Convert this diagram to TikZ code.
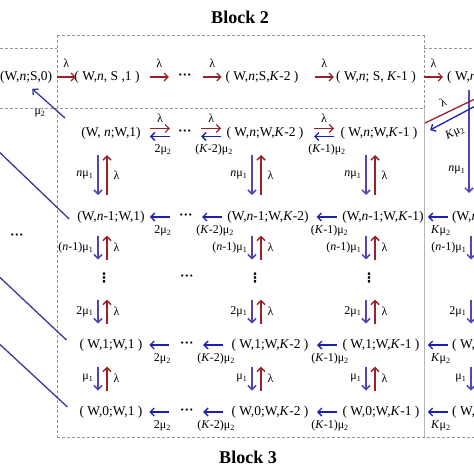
\documentclass[tikz,border=0pt]{standalone}
\usepackage{fontspec}
\setmainfont{Liberation Serif}
\newfontfamily\dvfont{DejaVu Sans}
\usetikzlibrary{calc,arrows.meta}
\definecolor{rd}{RGB}{150,35,40}
\definecolor{bl}{RGB}{30,30,175}
\definecolor{vb}{RGB}{80,70,180}
\definecolor{dl}{RGB}{60,55,160}
\definecolor{gr}{RGB}{150,150,150}
\newcommand\mus[1]{μ\textsubscript{#1}}
\newcommand\HR[3][0pt]{%
  \coordinate (hm) at ($(#2.east)!0.5!(#3.west)$);
  \draw[rarr] ([xshift={#1-9.5pt}]hm) -- ([xshift={#1+9.5pt}]hm);
  \node[lb] at ([xshift=#1,yshift=14pt]hm) {λ};}
\newcommand\HD[4][0pt]{%
  \coordinate (hm) at ($(#2.east)!0.5!(#3.west)$);
  \draw[rarr] ([xshift={#1-10pt},yshift=4.5pt]hm) -- ([xshift={#1+10pt},yshift=4.5pt]hm);
  \draw[barr] ([xshift={#1+10pt},yshift=-3.5pt]hm) -- ([xshift={#1-10pt},yshift=-3.5pt]hm);
  \node[lb] at ([xshift=#1,yshift=15pt]hm) {λ};
  \node[lb] at ([xshift={#1+3pt},yshift=-17pt]hm) {#4};}
\newcommand\HB[4][0pt]{%
  \coordinate (hm) at ($(#2.east)!0.5!(#3.west)$);
  \draw[barr] ([xshift={#1+10pt}]hm) -- ([xshift={#1-10pt}]hm);
  \node[lb] at ([xshift={#1+3pt},yshift=-14pt]hm) {#4};}
\newcommand\VPair[5]{%
  \coordinate (vm) at ($(#2)!0.5!(#3)$);
  \coordinate (vc) at (#1 |- vm);
  \draw[vbarr] ([xshift=-13pt,yshift=#4]vc) -- ([xshift=-13pt,yshift=-#4]vc);
  \draw[vrarr] ([xshift=-4pt,yshift=-#4]vc) -- ([xshift=-4pt,yshift=#4]vc);
  \node[lb,anchor=east] at ([xshift=-17pt]vc) {#5};
  \node[lb,anchor=west] at ([xshift=2pt]vc) {λ};}
\tikzset{
  st/.style={inner sep=1pt, font=\fontsize{13.5}{16}\selectfont},
  dt/.style={inner sep=0pt, font=\bfseries\fontsize{13.5}{16}\selectfont},
  vt/.style={inner sep=0pt, font=\dvfont\bfseries\fontsize{13}{15}\selectfont},
  lb/.style={inner sep=0.5pt, font=\fontsize{12}{14}\selectfont},
  rarr/.style={draw=rd, line width=1.2pt, -{Straight Barb[length=4pt,width=8pt]}},
  barr/.style={draw=bl, line width=1.3pt, -{Straight Barb[length=4pt,width=8pt]}},
  vbarr/.style={draw=vb, line width=1.5pt, -{Straight Barb[length=4pt,width=8pt]}},
  vrarr/.style={draw=rd, line width=1.5pt, -{Straight Barb[length=4pt,width=8pt]}},
  dline/.style={draw=dl, line width=1.3pt},
  dsh/.style={draw=gr, line width=0.7pt, dash pattern=on 3pt off 2pt},
  sol/.style={draw=gr!70, line width=0.7pt},
  ttl/.style={inner sep=1pt, font=\bfseries\fontsize{18}{20}\selectfont}
}
\begin{document}
\begin{tikzpicture}[x=1pt,y=-1pt]
\useasboundingbox (0,0) rectangle (474,474);
\clip (0,0) rectangle (474,474);
% titles
\node[ttl] (t2) at (240,17) {Block 2};
\node[ttl] (t3) at (248,457) {Block 3};
% block borders
\draw[dsh] (57,35) -- (424,35);
\draw[dsh] (0,48) -- (57,48);
\draw[dsh] (424,48) -- (474,48);
\draw[dsh] (0,108) -- (424,108);
\draw[dsh] (57,35) -- (57,437);
\draw[dsh] (424,35) -- (424,108);
\draw[sol] (424,108) -- (424,437);
\draw[dsh] (57,437) -- (474,437);
% row S
\node[st,anchor=west] (s0) at (-1,77) {(W,\textit{n};S,0)};
\node[st] (s1) at (107,77) {( W,\textit{n}, S ,1 )};
\node[dt] (sd) at (185,77) {···};
\node[st] (s2) at (262,77) {( W,\textit{n};S,\textit{K}-2 )};
\node[st] (s3) at (376,77) {( W,\textit{n}; S, \textit{K}-1 )};
\node[st,anchor=west] (s4) at (446,77) {( W,\textit{n};S,\textit{K} )};
% row W
\node[st] (w1) at (111,133) {(W, \textit{n};W,1)};
\node[dt] (wd) at (185,133) {···};
\node[st] (w2) at (265,133) {( W,\textit{n};W,\textit{K}-2 )};
\node[st] (w3) at (379,133) {( W,\textit{n};W,\textit{K}-1 )};
% row n-1
\node[st] (a1) at (111,217) {(W,\textit{n}-1;W,1)};
\node[dt] (ad) at (186,217) {···};
\node[st] (a2) at (268,217) {(W,\textit{n}-1;W,\textit{K}-2)};
\node[st] (a3) at (383,217) {(W,\textit{n}-1;W,\textit{K}-1)};
\node[st,anchor=west] (a4) at (451,217) {(W,\textit{n}-1;W,\textit{K})};
% dots row
\node[vt] (v1) at (104,278) {⋮};
\node[dt] (vd) at (187,278) {···};
\node[vt] (v2) at (255,278) {⋮};
\node[vt] (v3) at (369,278) {⋮};
\node[dt] (ld) at (17,237) {···};
% row 1
\node[st] (b1) at (111,345) {( W,1;W,1 )};
\node[dt] (bd) at (187,345) {···};
\node[st] (b2) at (270,345) {( W,1;W,\textit{K}-2 )};
\node[st] (b3) at (381,345) {( W,1;W,\textit{K}-1 )};
\node[st,anchor=west] (b4) at (451,345) {( W,1;W,\textit{K} )};
% row 0
\node[st] (c1) at (111,412) {( W,0;W,1 )};
\node[dt] (cd) at (187,412) {···};
\node[st] (c2) at (270,412) {( W,0;W,\textit{K}-2 )};
\node[st] (c3) at (381,412) {( W,0;W,\textit{K}-1 )};
\node[st,anchor=west] (c4) at (451,412) {( W,0;W,\textit{K} )};
% horizontal arrows
\HR[3pt]{s0}{s1}
\HR{s1}{sd}
\HR[4pt]{sd}{s2}
\HR[7pt]{s2}{s3}
\HR[2pt]{s3}{s4}
\HD{w1}{wd}{2\mus2}
\HD[2.5pt]{wd}{w2}{(\textit{K}-2)\mus2}
\HD[2pt]{w2}{w3}{(\textit{K}-1)\mus2}
\HB[-2.5pt]{a1}{ad}{2\mus2}
\HB[2.5pt]{ad}{a2}{(\textit{K}-2)\mus2}
\HB[1pt]{a2}{a3}{(\textit{K}-1)\mus2}
\HB{a3}{a4}{\textit{K}\mus2}
\HB[-2.5pt]{b1}{bd}{2\mus2}
\HB[1pt]{bd}{b2}{(\textit{K}-2)\mus2}
\HB[1.5pt]{b2}{b3}{(\textit{K}-1)\mus2}
\HB[2pt]{b3}{b4}{\textit{K}\mus2}
\HB[-2.5pt]{c1}{cd}{2\mus2}
\HB[1pt]{cd}{c2}{(\textit{K}-2)\mus2}
\HB[1.5pt]{c2}{c3}{(\textit{K}-1)\mus2}
\HB[2pt]{c3}{c4}{\textit{K}\mus2}
% vertical pairs
\coordinate (kx) at (484,133);
\foreach \col in {w1,w2,w3}{
  \VPair{\col}{w1}{a1}{20pt}{\textit{n}\mus1}
  \VPair{\col}{a1}{v1}{12pt}{(\textit{n}-1)\mus1}
  \VPair{\col}{v1}{b1}{12pt}{2\mus1}
  \VPair{\col}{b1}{c1}{12pt}{\mus1}
}
\VPair{kx}{a4}{v3}{12pt}{(\textit{n}-1)\mus1}
\VPair{kx}{v3}{b4}{12pt}{2\mus1}
\VPair{kx}{b4}{c4}{12pt}{\mus1}
% column K top arrow
\coordinate (kt) at ([shift={(23,5.5)}]s4.south west);
\coordinate (kb) at ([shift={(18,-24)}]a4.west);
\draw[vbarr] (kt) -- (kb);
\node[lb,anchor=east] (knl) at ([shift={(-3,-23)}]kb) {\textit{n}\mus1};
% right diagonals
\coordinate (rs) at ([xshift=6.5pt,yshift=10pt]w3.east);
\draw[dline,draw=rd] (rs) -- ++(56,-27);
\coordinate (be) at ([xshift=11.5pt,yshift=3pt]w3.east);
\draw[barr] ($(be)+(51,-27)$) -- (be);
\node[lb,rotate=25] (rl) at (443,102) {λ};
\node[lb,rotate=25] (kl) at (455,133) {\textit{K}\mus2};
% left block
\coordinate (m2s) at (65,118);
\draw[barr,draw=dl] (m2s) -- ([shift={(6,4.5)}]s0.south);
\node[lb] (m2l) at (40,113) {\mus2};
\draw[dline] ([xshift=-7pt,yshift=-2pt]a1.west) -- ++(-72,-69);
\draw[dline] ([xshift=-12pt,yshift=5pt]b1.west) -- ++(-68,-64);
\draw[dline] ([xshift=-11pt,yshift=5pt]c1.west) -- ++(-69,-64);
\end{tikzpicture}
\end{document}
